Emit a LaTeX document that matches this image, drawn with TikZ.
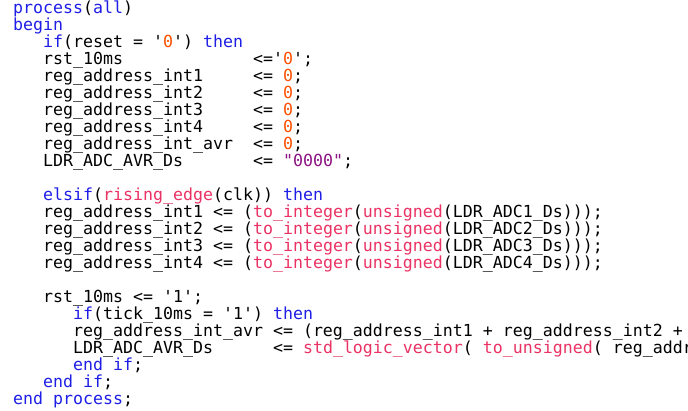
\documentclass[tikz,border=0pt]{standalone}
\usepackage{fontspec}
\setmonofont{DejaVu Sans Mono}
\definecolor{kw}{RGB}{30,30,230}
\definecolor{num}{RGB}{255,80,0}
\definecolor{str}{RGB}{140,20,130}
\definecolor{fn}{RGB}{235,50,100}
\newcommand{\K}[1]{\textcolor{kw}{#1}}
\newcommand{\N}[1]{\textcolor{num}{#1}}
\newcommand{\Sg}[1]{\textcolor{str}{#1}}
\newcommand{\F}[1]{\textcolor{fn}{#1}}
\begin{document}
\begin{tikzpicture}[x=1pt,y=1pt,
  ln/.style={anchor=base west,inner sep=0pt,font=\fontsize{16.6}{17}\selectfont\ttfamily}]
\fill[white] (0,0) rectangle (688,-411);
\useasboundingbox (0,0) rectangle (688,-411);
\clip (0,0) rectangle (688,-411);
\def\cx{13}
\node[ln] (l0) at (13,-14) {\K{process}(\K{all})};
\node[ln] (l1) at (13,-31) {\K{begin}};
\node[ln] (l2) at (13,-48) {~~~\K{if}(reset~=~'\N{0}')~\K{then}};
\node[ln] (l3) at (13,-65) {~~~rst\_10ms~~~~~~~~~~~~~<='\N{0}';};
\node[ln] (l4) at (13,-82) {~~~reg\_address\_int1~~~~~<=~\N{0};};
\node[ln] (l5) at (13,-99) {~~~reg\_address\_int2~~~~~<=~\N{0};};
\node[ln] (l6) at (13,-116) {~~~reg\_address\_int3~~~~~<=~\N{0};};
\node[ln] (l7) at (13,-133) {~~~reg\_address\_int4~~~~~<=~\N{0};};
\node[ln] (l8) at (13,-150) {~~~reg\_address\_int\_avr~~<=~\N{0};};
\node[ln] (l9) at (13,-167) {~~~LDR\_ADC\_AVR\_Ds~~~~~~~<=~\Sg{"0000"};};
\node[ln] (l11) at (13,-201) {~~~\K{elsif}(\F{rising\_edge}(clk))~\K{then}};
\node[ln] (l12) at (13,-218) {~~~reg\_address\_int1~<=~(\F{to\_integer}(\F{unsigned}(LDR\_ADC1\_Ds)));};
\node[ln] (l13) at (13,-235) {~~~reg\_address\_int2~<=~(\F{to\_integer}(\F{unsigned}(LDR\_ADC2\_Ds)));};
\node[ln] (l14) at (13,-252) {~~~reg\_address\_int3~<=~(\F{to\_integer}(\F{unsigned}(LDR\_ADC3\_Ds)));};
\node[ln] (l15) at (13,-269) {~~~reg\_address\_int4~<=~(\F{to\_integer}(\F{unsigned}(LDR\_ADC4\_Ds)));};
\node[ln] (l17) at (13,-303) {~~~rst\_10ms~<=~'1';};
\node[ln] (l18) at (13,-320) {~~~~~~\K{if}(tick\_10ms~=~'1')~\K{then}};
\node[ln] (l19) at (13,-337) {~~~~~~reg\_address\_int\_avr~<=~(reg\_address\_int1~+~reg\_address\_int2~+~reg\_address\_int3};
\node[ln] (l20) at (13,-354) {~~~~~~LDR\_ADC\_AVR\_Ds~~~~~~<=~\F{std\_logic\_vector}(~\F{to\_unsigned}(~reg\_address\_int\_avr};
\node[ln] (l21) at (13,-371) {~~~~~~\K{end}~\K{if};};
\node[ln] (l22) at (13,-388) {~~~\K{end}~\K{if};};
\node[ln] (l23) at (13,-405) {\K{end}~\K{process};};
\end{tikzpicture}
\end{document}
